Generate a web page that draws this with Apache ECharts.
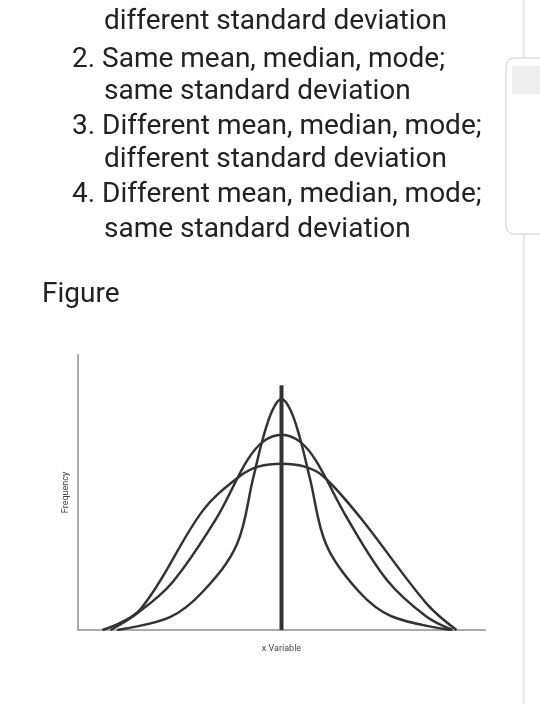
<!DOCTYPE html>
<html><head><meta charset="utf-8">
<script src="https://cdn.jsdelivr.net/npm/echarts@6/dist/echarts.min.js"></script>
<style>html,body{margin:0;background:#fff}#c{width:540px;height:704px}</style>
</head><body><div id="c"></div>
<script>
// text lines of the question (x, y-centre, text)
const textLines = [
  [104, 25, "different standard deviation"],
  [72, 63, "2. Same mean, median, mode;"],
  [104, 95, "same standard deviation"],
  [72, 130, "3. Different mean, median, mode;"],
  [104, 163, "different standard deviation"],
  [72, 198, "4. Different mean, median, mode;"],
  [104, 233, "same standard deviation"],
  [42, 298, "Figure"]
];

// curves: [x, frequency]
const wideCurve = [[6, 0], [15.2, 7.3], [30.7, 43.5], [39.8, 56], [44.5, 59.5], [50, 60.5], [55.5, 59.5], [60.2, 56], [69.3, 41], [85.7, 9.5], [93, 0]];
const mediumCurve = [[8, 0], [14.5, 6], [23, 17], [34, 40.6], [41.5, 61.5], [45.5, 68.5], [50, 71], [54.5, 68.5], [58.5, 61.5], [66, 41], [76, 18], [85.5, 5], [92, 0]];
const narrowCurve = [[9.6, 0], [22.6, 4.7], [30.7, 14], [39, 31], [43, 55], [45.5, 70], [47.8, 80], [50, 84], [52.2, 80], [54.5, 70], [57, 55], [61, 31], [69, 14], [77, 5], [91.5, 0]];
const centreLine = [[50, 0], [50, 89]];

const chart = echarts.init(document.getElementById("c"));
const curveStyle = { color: "#333", width: 2.5 };

chart.setOption({
  animation: false,
  grid: { left: 78, top: 355, width: 407, height: 275 },
  xAxis: {
    type: "value", min: 0, max: 100,
    name: "x Variable", nameLocation: "middle", nameGap: 14,
    nameTextStyle: { fontSize: 9, color: "#444", fontFamily: "Roboto" },
    axisLine: { lineStyle: { color: "#aaa", width: 2 } },
    axisTick: { show: false }, axisLabel: { show: false }, splitLine: { show: false }
  },
  yAxis: {
    type: "value", min: 0, max: 100,
    name: "Frequency", nameLocation: "middle", nameGap: 8,
    nameTextStyle: { fontSize: 9, color: "#444", fontFamily: "Roboto" },
    axisLine: { show: true, lineStyle: { color: "#aaa", width: 2 } },
    axisTick: { show: false }, axisLabel: { show: false }, splitLine: { show: false }
  },
  series: [
    { type: "line", data: wideCurve, smooth: 0.35, symbol: "none", lineStyle: curveStyle },
    { type: "line", data: mediumCurve, smooth: 0.35, symbol: "none", lineStyle: curveStyle },
    { type: "line", data: narrowCurve, smooth: 0.35, symbol: "none", lineStyle: curveStyle },
    { type: "line", data: centreLine, symbol: "none", lineStyle: { color: "#333", width: 4 } }
  ],
  graphic: [
    ...textLines.map(([x, y, t]) => ({
      type: "text", left: x, top: y - 17,
      style: { text: t, fontSize: 28, fontFamily: "Roboto", fill: "#222" }
    })),
    { type: "rect", shape: { x: 523, y: 0, width: 1.5, height: 704 }, style: { fill: "#e2e2e2" } },
    { type: "rect", shape: { x: 506, y: 58, width: 50, height: 176, r: 8 }, style: { fill: "#fff", stroke: "#ccc", lineWidth: 1 } },
    { type: "rect", shape: { x: 512, y: 66, width: 40, height: 28 }, style: { fill: "#eee" } }
  ]
});
</script></body></html>
